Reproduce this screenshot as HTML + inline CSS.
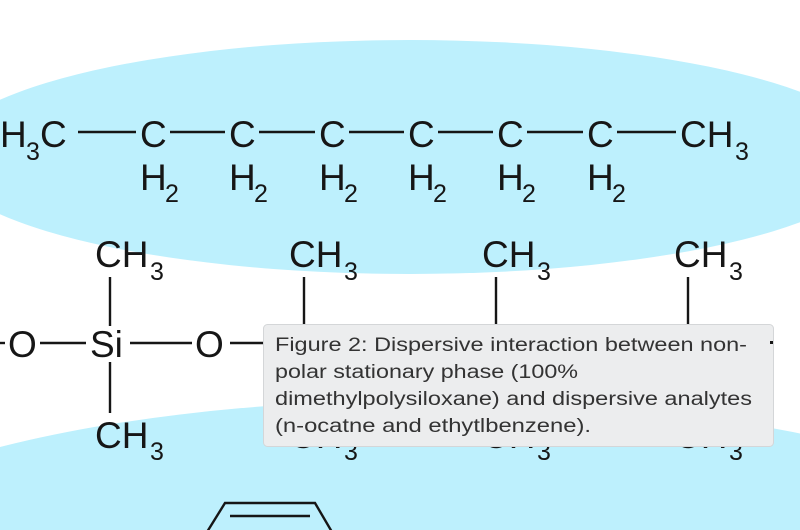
<!DOCTYPE html>
<html><head><meta charset="utf-8"><style>
html,body{margin:0;padding:0;background:#fff;width:800px;height:530px;overflow:hidden}
svg{display:block}
text{font-family:"Liberation Sans",sans-serif;fill:#161616}
.m{font-size:37px}
.s{font-size:25px}
.t{font-size:19px;fill:#333}
</style></head><body>
<svg width="800" height="530" viewBox="0 0 800 530" xmlns="http://www.w3.org/2000/svg">
<ellipse cx="410" cy="157" rx="470" ry="117" fill="#bdf0fd"/>
<ellipse cx="430" cy="590" rx="653" ry="190" fill="#bdf0fd"/>
<g stroke="#161616" stroke-width="2.4">
<!-- top chain bonds -->
<line x1="78" y1="132" x2="136" y2="132"/>
<line x1="170" y1="132" x2="225" y2="132"/>
<line x1="259" y1="132" x2="315" y2="132"/>
<line x1="349" y1="132" x2="404" y2="132"/>
<line x1="438" y1="132" x2="493" y2="132"/>
<line x1="527" y1="132" x2="583" y2="132"/>
<line x1="617" y1="132" x2="676" y2="132"/>
<!-- middle verticals -->
<line x1="110" y1="277" x2="110" y2="326"/>
<line x1="304" y1="277" x2="304" y2="326"/>
<line x1="496" y1="277" x2="496" y2="326"/>
<line x1="688" y1="277" x2="688" y2="326"/>
<line x1="110" y1="362" x2="110" y2="413"/>
<!-- Si row bonds -->
<line x1="0" y1="343" x2="5" y2="343"/>
<line x1="40" y1="343" x2="86" y2="343"/>
<line x1="130" y1="343" x2="192" y2="343"/>
<line x1="230" y1="343" x2="265" y2="343"/>
<!-- benzene -->
<polyline points="207,532 225,503 315,503 332,532" fill="none"/>
<line x1="230" y1="516" x2="310" y2="516"/>
</g>
<!-- top chain text -->
<text class="m" x="0" y="147">H</text><text class="s" x="26" y="160">3</text><text class="m" x="40" y="147">C</text>
<text class="m" x="140" y="147">C</text>
<text class="m" x="229" y="147">C</text>
<text class="m" x="319" y="147">C</text>
<text class="m" x="408" y="147">C</text>
<text class="m" x="497" y="147">C</text>
<text class="m" x="587" y="147">C</text>
<text class="m" x="680" y="147">CH</text><text class="s" x="735" y="160">3</text>
<g>
<text class="m" x="140" y="190">H</text><text class="s" x="165" y="202">2</text>
<text class="m" x="229" y="190">H</text><text class="s" x="254" y="202">2</text>
<text class="m" x="319" y="190">H</text><text class="s" x="344" y="202">2</text>
<text class="m" x="408" y="190">H</text><text class="s" x="433" y="202">2</text>
<text class="m" x="497" y="190">H</text><text class="s" x="522" y="202">2</text>
<text class="m" x="587" y="190">H</text><text class="s" x="612" y="202">2</text>
</g>
<!-- middle -->
<text class="m" x="95" y="267">CH</text><text class="s" x="150" y="280">3</text>
<text class="m" x="289" y="267">CH</text><text class="s" x="344" y="280">3</text>
<text class="m" x="482" y="267">CH</text><text class="s" x="537" y="280">3</text>
<text class="m" x="674" y="267">CH</text><text class="s" x="729" y="280">3</text>
<text class="m" x="8" y="357">O</text>
<text class="m" x="90" y="357">Si</text>
<text class="m" x="195" y="357">O</text>
<text class="m" x="95" y="448">CH</text><text class="s" x="150" y="460">3</text>
<text class="m" x="289" y="448">CH</text><text class="s" x="344" y="460">3</text>
<text class="m" x="482" y="448">CH</text><text class="s" x="537" y="460">3</text>
<text class="m" x="674" y="448">CH</text><text class="s" x="729" y="460">3</text>
<!-- tooltip -->
<rect x="263.5" y="324.5" width="510" height="122" rx="4" fill="#ecedee" stroke="#d4d6d8"/>
<text class="t" x="275" y="351" textLength="472" lengthAdjust="spacingAndGlyphs">Figure 2: Dispersive interaction between non-</text>
<text class="t" x="275" y="378" textLength="303" lengthAdjust="spacingAndGlyphs">polar stationary phase (100%</text>
<text class="t" x="275" y="405" textLength="477" lengthAdjust="spacingAndGlyphs">dimethylpolysiloxane) and dispersive analytes</text>
<text class="t" x="275" y="432" textLength="316" lengthAdjust="spacingAndGlyphs">(n-ocatne and ethytlbenzene).</text>
<rect x="770" y="341" width="3" height="3" fill="#161616"/>
</svg>
</body></html>
